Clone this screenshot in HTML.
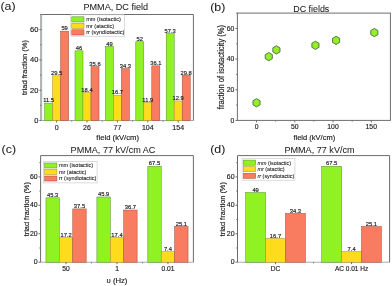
<!DOCTYPE html>
<html><head><meta charset="utf-8"><style>
html,body{margin:0;padding:0;background:#fff;width:392px;height:286px;overflow:hidden}
svg{display:block}
text{font-family:"Liberation Sans", sans-serif;fill:#1a1a1a;stroke:#1a1a1a;stroke-width:0.15px}
</style></head><body>
<svg width="392" height="286" viewBox="0 0 392 286"><g opacity="0.999">
<line x1="41.40" y1="120.50" x2="193.40" y2="120.50" stroke="#a8aab0" stroke-width="1"/>
<line x1="41.10" y1="120.50" x2="41.10" y2="14.50" stroke="#b2b6b6" stroke-width="2.2"/>
<path d="M41.40 14.50 H193.40 V120.50" fill="none" stroke="#6e6e6e" stroke-width="1.0"/>
<rect x="44.59" y="103.09" width="8.01" height="17.61" fill="#90f222" stroke="#5a8a2a" stroke-width="0.5"/>
<rect x="52.60" y="75.83" width="8.01" height="44.87" fill="#ffdb1e" stroke="#a88a2a" stroke-width="0.5"/>
<rect x="60.60" y="31.16" width="8.01" height="89.54" fill="#f97c60" stroke="#9a4a3a" stroke-width="0.5"/>
<line x1="56.60" y1="120.50" x2="56.60" y2="122.50" stroke="#6a6a6a" stroke-width="1"/>
<text x="56.60" y="130.20" font-size="7.0" text-anchor="middle">0</text>
<line x1="71.80" y1="120.50" x2="71.80" y2="121.70" stroke="#6a6a6a" stroke-width="1"/>
<rect x="74.99" y="50.84" width="8.01" height="69.86" fill="#90f222" stroke="#5a8a2a" stroke-width="0.5"/>
<rect x="83.00" y="92.64" width="8.01" height="28.06" fill="#ffdb1e" stroke="#a88a2a" stroke-width="0.5"/>
<rect x="91.00" y="66.59" width="8.01" height="54.11" fill="#f97c60" stroke="#9a4a3a" stroke-width="0.5"/>
<line x1="87.00" y1="120.50" x2="87.00" y2="122.50" stroke="#6a6a6a" stroke-width="1"/>
<text x="87.00" y="130.20" font-size="7.0" text-anchor="middle">26</text>
<line x1="102.20" y1="120.50" x2="102.20" y2="121.70" stroke="#6a6a6a" stroke-width="1"/>
<rect x="105.39" y="46.30" width="8.01" height="74.40" fill="#90f222" stroke="#5a8a2a" stroke-width="0.5"/>
<rect x="113.40" y="95.21" width="8.01" height="25.49" fill="#ffdb1e" stroke="#a88a2a" stroke-width="0.5"/>
<rect x="121.40" y="68.56" width="8.01" height="52.14" fill="#f97c60" stroke="#9a4a3a" stroke-width="0.5"/>
<line x1="117.40" y1="120.50" x2="117.40" y2="122.50" stroke="#6a6a6a" stroke-width="1"/>
<text x="117.40" y="130.20" font-size="7.0" text-anchor="middle">77</text>
<line x1="132.60" y1="120.50" x2="132.60" y2="121.70" stroke="#6a6a6a" stroke-width="1"/>
<rect x="135.79" y="41.76" width="8.01" height="78.94" fill="#90f222" stroke="#5a8a2a" stroke-width="0.5"/>
<rect x="143.80" y="102.48" width="8.01" height="18.22" fill="#ffdb1e" stroke="#a88a2a" stroke-width="0.5"/>
<rect x="151.80" y="65.83" width="8.01" height="54.87" fill="#f97c60" stroke="#9a4a3a" stroke-width="0.5"/>
<line x1="147.80" y1="120.50" x2="147.80" y2="122.50" stroke="#6a6a6a" stroke-width="1"/>
<text x="147.80" y="130.20" font-size="7.0" text-anchor="middle">104</text>
<line x1="163.00" y1="120.50" x2="163.00" y2="121.70" stroke="#6a6a6a" stroke-width="1"/>
<rect x="166.19" y="33.73" width="8.01" height="86.97" fill="#90f222" stroke="#5a8a2a" stroke-width="0.5"/>
<rect x="174.20" y="100.97" width="8.01" height="19.73" fill="#ffdb1e" stroke="#a88a2a" stroke-width="0.5"/>
<rect x="182.20" y="75.37" width="8.01" height="45.33" fill="#f97c60" stroke="#9a4a3a" stroke-width="0.5"/>
<line x1="178.20" y1="120.50" x2="178.20" y2="122.50" stroke="#6a6a6a" stroke-width="1"/>
<text x="178.20" y="130.20" font-size="7.0" text-anchor="middle">154</text>
<text x="48.59" y="102.29" font-size="5.8" text-anchor="middle">11.5</text>
<text x="56.60" y="75.03" font-size="5.8" text-anchor="middle">29.5</text>
<text x="64.61" y="30.36" font-size="5.8" text-anchor="middle">59</text>
<text x="78.99" y="50.04" font-size="5.8" text-anchor="middle">46</text>
<text x="87.00" y="91.84" font-size="5.8" text-anchor="middle">18.4</text>
<text x="95.01" y="65.79" font-size="5.8" text-anchor="middle">35.6</text>
<text x="109.39" y="45.50" font-size="5.8" text-anchor="middle">49</text>
<text x="117.40" y="94.41" font-size="5.8" text-anchor="middle">16.7</text>
<text x="125.41" y="67.76" font-size="5.8" text-anchor="middle">34.3</text>
<text x="139.79" y="40.96" font-size="5.8" text-anchor="middle">52</text>
<text x="147.80" y="101.68" font-size="5.8" text-anchor="middle">11.9</text>
<text x="155.81" y="65.03" font-size="5.8" text-anchor="middle">36.1</text>
<text x="170.19" y="32.93" font-size="5.8" text-anchor="middle">57.3</text>
<text x="178.20" y="100.17" font-size="5.8" text-anchor="middle">12.9</text>
<text x="186.21" y="74.57" font-size="5.8" text-anchor="middle">29.8</text>
<line x1="39.40" y1="120.50" x2="41.40" y2="120.50" stroke="#6a6a6a" stroke-width="1"/>
<text x="38.40" y="122.90" font-size="7.5" text-anchor="end">0</text>
<line x1="40.20" y1="105.36" x2="41.40" y2="105.36" stroke="#6a6a6a" stroke-width="1"/>
<line x1="39.40" y1="90.21" x2="41.40" y2="90.21" stroke="#6a6a6a" stroke-width="1"/>
<text x="38.40" y="92.61" font-size="7.5" text-anchor="end">20</text>
<line x1="40.20" y1="75.07" x2="41.40" y2="75.07" stroke="#6a6a6a" stroke-width="1"/>
<line x1="39.40" y1="59.93" x2="41.40" y2="59.93" stroke="#6a6a6a" stroke-width="1"/>
<text x="38.40" y="62.33" font-size="7.5" text-anchor="end">40</text>
<line x1="40.20" y1="44.79" x2="41.40" y2="44.79" stroke="#6a6a6a" stroke-width="1"/>
<line x1="39.40" y1="29.64" x2="41.40" y2="29.64" stroke="#6a6a6a" stroke-width="1"/>
<text x="38.40" y="32.04" font-size="7.5" text-anchor="end">60</text>
<line x1="40.20" y1="14.50" x2="41.40" y2="14.50" stroke="#6a6a6a" stroke-width="1"/>
<rect x="70.8" y="14.8" width="53.6" height="21.4" fill="#fff" stroke="#c4c4c4" stroke-width="0.6"/>
<rect x="71.80" y="16.80" width="12.20" height="5.20" fill="#90f222" stroke="#5a8a2a" stroke-width="0.5"/>
<text transform="translate(86.20 21.42) scale(1 1.1)" font-size="5.6" text-anchor="start" style="stroke-width:0.08px">mm (isotactic)</text>
<rect x="71.80" y="23.30" width="12.20" height="5.20" fill="#ffdb1e" stroke="#a88a2a" stroke-width="0.5"/>
<text transform="translate(86.20 27.92) scale(1 1.1)" font-size="5.6" text-anchor="start" style="stroke-width:0.08px">mr (atactic)</text>
<rect x="71.80" y="29.80" width="12.20" height="5.20" fill="#f97c60" stroke="#9a4a3a" stroke-width="0.5"/>
<text transform="translate(86.20 34.42) scale(1 1.1)" font-size="5.6" text-anchor="start" style="stroke-width:0.08px">rr (syndiotactic)</text>
<text transform="translate(115.75 10.00) scale(1 1.06)" font-size="9.1" text-anchor="middle" style="stroke-width:0.05px">PMMA, DC field</text>
<text transform="translate(0.40 9.90) scale(1 0.9)" font-size="12.4" text-anchor="start" style="stroke-width:0.05px">(a)</text>
<text transform="translate(27.20 67.50) rotate(-90) scale(1 1.0001)" font-size="7.5" text-anchor="middle">triad fraction (%)</text>
<text x="117.70" y="140.20" font-size="7.7" text-anchor="middle">field (kV/cm)</text>
<line x1="40.60" y1="262.20" x2="193.40" y2="262.20" stroke="#a8aab0" stroke-width="1"/>
<path d="M40.60 262.20 V155.60 H193.40 V262.20" fill="none" stroke="#6a6a6a" stroke-width="1"/>
<rect x="45.95" y="197.81" width="13.41" height="64.39" fill="#90f222" stroke="#5a8a2a" stroke-width="0.5"/>
<rect x="59.36" y="237.75" width="13.41" height="24.45" fill="#ffdb1e" stroke="#a88a2a" stroke-width="0.5"/>
<rect x="72.77" y="208.90" width="13.41" height="53.30" fill="#f97c60" stroke="#9a4a3a" stroke-width="0.5"/>
<line x1="66.07" y1="262.20" x2="66.07" y2="264.20" stroke="#6a6a6a" stroke-width="1"/>
<text x="66.07" y="270.90" font-size="6.7" text-anchor="middle">50</text>
<line x1="91.53" y1="262.20" x2="91.53" y2="263.40" stroke="#6a6a6a" stroke-width="1"/>
<rect x="96.88" y="196.96" width="13.41" height="65.24" fill="#90f222" stroke="#5a8a2a" stroke-width="0.5"/>
<rect x="110.29" y="237.47" width="13.41" height="24.73" fill="#ffdb1e" stroke="#a88a2a" stroke-width="0.5"/>
<rect x="123.71" y="210.04" width="13.41" height="52.16" fill="#f97c60" stroke="#9a4a3a" stroke-width="0.5"/>
<line x1="117.00" y1="262.20" x2="117.00" y2="264.20" stroke="#6a6a6a" stroke-width="1"/>
<text x="117.00" y="270.90" font-size="6.7" text-anchor="middle">1</text>
<line x1="142.47" y1="262.20" x2="142.47" y2="263.40" stroke="#6a6a6a" stroke-width="1"/>
<rect x="147.81" y="166.26" width="13.41" height="95.94" fill="#90f222" stroke="#5a8a2a" stroke-width="0.5"/>
<rect x="161.23" y="251.68" width="13.41" height="10.52" fill="#ffdb1e" stroke="#a88a2a" stroke-width="0.5"/>
<rect x="174.64" y="226.52" width="13.41" height="35.68" fill="#f97c60" stroke="#9a4a3a" stroke-width="0.5"/>
<line x1="167.93" y1="262.20" x2="167.93" y2="264.20" stroke="#6a6a6a" stroke-width="1"/>
<text x="167.93" y="270.90" font-size="6.7" text-anchor="middle">0.01</text>
<text x="52.65" y="197.01" font-size="5.8" text-anchor="middle">45.3</text>
<text x="66.07" y="236.95" font-size="5.8" text-anchor="middle">17.2</text>
<text x="79.48" y="208.10" font-size="5.8" text-anchor="middle">37.5</text>
<text x="103.59" y="196.16" font-size="5.8" text-anchor="middle">45.9</text>
<text x="117.00" y="236.67" font-size="5.8" text-anchor="middle">17.4</text>
<text x="130.41" y="209.24" font-size="5.8" text-anchor="middle">36.7</text>
<text x="154.52" y="165.46" font-size="5.8" text-anchor="middle">67.5</text>
<text x="167.93" y="250.88" font-size="5.8" text-anchor="middle">7.4</text>
<text x="181.35" y="225.72" font-size="5.8" text-anchor="middle">25.1</text>
<line x1="38.60" y1="262.20" x2="40.60" y2="262.20" stroke="#6a6a6a" stroke-width="1"/>
<text x="37.60" y="264.08" font-size="6.9" text-anchor="end">0</text>
<line x1="39.40" y1="247.99" x2="40.60" y2="247.99" stroke="#6a6a6a" stroke-width="1"/>
<line x1="38.60" y1="233.77" x2="40.60" y2="233.77" stroke="#6a6a6a" stroke-width="1"/>
<text x="37.60" y="235.66" font-size="6.9" text-anchor="end">20</text>
<line x1="39.40" y1="219.56" x2="40.60" y2="219.56" stroke="#6a6a6a" stroke-width="1"/>
<line x1="38.60" y1="205.35" x2="40.60" y2="205.35" stroke="#6a6a6a" stroke-width="1"/>
<text x="37.60" y="207.23" font-size="6.9" text-anchor="end">40</text>
<line x1="39.40" y1="191.13" x2="40.60" y2="191.13" stroke="#6a6a6a" stroke-width="1"/>
<line x1="38.60" y1="176.92" x2="40.60" y2="176.92" stroke="#6a6a6a" stroke-width="1"/>
<text x="37.60" y="178.80" font-size="6.9" text-anchor="end">60</text>
<line x1="39.40" y1="162.71" x2="40.60" y2="162.71" stroke="#6a6a6a" stroke-width="1"/>
<rect x="43.3" y="161.3" width="53.8" height="21.6" fill="#fff" stroke="#c4c4c4" stroke-width="0.6"/>
<rect x="44.70" y="163.00" width="12.20" height="5.00" fill="#90f222" stroke="#5a8a2a" stroke-width="0.5"/>
<text transform="translate(58.90 167.48) scale(1 1.1)" font-size="5.5" text-anchor="start" style="stroke-width:0.08px">mm (isotactic)</text>
<rect x="44.70" y="169.50" width="12.20" height="5.00" fill="#ffdb1e" stroke="#a88a2a" stroke-width="0.5"/>
<text transform="translate(58.90 173.98) scale(1 1.1)" font-size="5.5" text-anchor="start" style="stroke-width:0.08px">mr (atactic)</text>
<rect x="44.70" y="176.00" width="12.20" height="5.00" fill="#f97c60" stroke="#9a4a3a" stroke-width="0.5"/>
<text transform="translate(58.90 180.48) scale(1 1.1)" font-size="5.5" text-anchor="start" style="stroke-width:0.08px">rr (syndiotactic)</text>
<text transform="translate(113.00 152.50) scale(1 1.06)" font-size="9.1" text-anchor="middle" style="stroke-width:0.05px">PMMA, 77 kV/cm AC</text>
<text transform="translate(1.60 152.90) scale(1 0.9)" font-size="12.4" text-anchor="start" style="stroke-width:0.05px">(c)</text>
<text transform="translate(28.60 209.20) rotate(-90) scale(1 1.05)" font-size="7.4" text-anchor="middle">triad fraction (%)</text>
<text x="117.00" y="283.00" font-size="7.7" text-anchor="middle">υ (Hz)</text>
<line x1="237.50" y1="262.20" x2="389.60" y2="262.20" stroke="#a8aab0" stroke-width="1"/>
<path d="M237.50 262.20 V155.60 H389.60 V262.20" fill="none" stroke="#6a6a6a" stroke-width="1"/>
<rect x="245.68" y="192.55" width="19.90" height="69.65" fill="#90f222" stroke="#5a8a2a" stroke-width="0.5"/>
<rect x="265.58" y="238.46" width="19.90" height="23.74" fill="#ffdb1e" stroke="#a88a2a" stroke-width="0.5"/>
<rect x="285.47" y="213.45" width="19.90" height="48.75" fill="#f97c60" stroke="#9a4a3a" stroke-width="0.5"/>
<line x1="275.52" y1="262.20" x2="275.52" y2="264.20" stroke="#6a6a6a" stroke-width="1"/>
<text x="275.52" y="270.90" font-size="6.5" text-anchor="middle">DC</text>
<line x1="313.55" y1="262.20" x2="313.55" y2="263.40" stroke="#6a6a6a" stroke-width="1"/>
<rect x="321.73" y="166.26" width="19.90" height="95.94" fill="#90f222" stroke="#5a8a2a" stroke-width="0.5"/>
<rect x="341.63" y="251.68" width="19.90" height="10.52" fill="#ffdb1e" stroke="#a88a2a" stroke-width="0.5"/>
<rect x="361.52" y="226.52" width="19.90" height="35.68" fill="#f97c60" stroke="#9a4a3a" stroke-width="0.5"/>
<line x1="351.58" y1="262.20" x2="351.58" y2="264.20" stroke="#6a6a6a" stroke-width="1"/>
<text x="351.58" y="270.90" font-size="6.5" text-anchor="middle">AC 0.01 Hz</text>
<text x="255.63" y="191.75" font-size="5.8" text-anchor="middle">49</text>
<text x="275.52" y="237.66" font-size="5.8" text-anchor="middle">16.7</text>
<text x="295.42" y="212.65" font-size="5.8" text-anchor="middle">34.3</text>
<text x="331.68" y="165.46" font-size="5.8" text-anchor="middle">67.5</text>
<text x="351.58" y="250.88" font-size="5.8" text-anchor="middle">7.4</text>
<text x="371.47" y="225.72" font-size="5.8" text-anchor="middle">25.1</text>
<line x1="235.50" y1="262.20" x2="237.50" y2="262.20" stroke="#6a6a6a" stroke-width="1"/>
<text x="234.50" y="264.08" font-size="6.9" text-anchor="end">0</text>
<line x1="236.30" y1="247.99" x2="237.50" y2="247.99" stroke="#6a6a6a" stroke-width="1"/>
<line x1="235.50" y1="233.77" x2="237.50" y2="233.77" stroke="#6a6a6a" stroke-width="1"/>
<text x="234.50" y="235.66" font-size="6.9" text-anchor="end">20</text>
<line x1="236.30" y1="219.56" x2="237.50" y2="219.56" stroke="#6a6a6a" stroke-width="1"/>
<line x1="235.50" y1="205.35" x2="237.50" y2="205.35" stroke="#6a6a6a" stroke-width="1"/>
<text x="234.50" y="207.23" font-size="6.9" text-anchor="end">40</text>
<line x1="236.30" y1="191.13" x2="237.50" y2="191.13" stroke="#6a6a6a" stroke-width="1"/>
<line x1="235.50" y1="176.92" x2="237.50" y2="176.92" stroke="#6a6a6a" stroke-width="1"/>
<text x="234.50" y="178.80" font-size="6.9" text-anchor="end">60</text>
<line x1="236.30" y1="162.71" x2="237.50" y2="162.71" stroke="#6a6a6a" stroke-width="1"/>
<rect x="242.1" y="158.5" width="52.8" height="21.7" fill="#fff" stroke="#c4c4c4" stroke-width="0.6"/>
<rect x="243.40" y="160.10" width="12.30" height="5.10" fill="#90f222" stroke="#5a8a2a" stroke-width="0.5"/>
<text transform="translate(257.50 164.59) scale(1 1.1)" font-size="5.4" text-anchor="start" style="stroke-width:0.08px"><tspan font-style="italic">mm</tspan> (isotactic)</text>
<rect x="243.40" y="166.70" width="12.30" height="5.10" fill="#ffdb1e" stroke="#a88a2a" stroke-width="0.5"/>
<text transform="translate(257.50 171.19) scale(1 1.1)" font-size="5.4" text-anchor="start" style="stroke-width:0.08px"><tspan font-style="italic">mr</tspan> (atactic)</text>
<rect x="243.40" y="173.30" width="12.30" height="5.10" fill="#f97c60" stroke="#9a4a3a" stroke-width="0.5"/>
<text transform="translate(257.50 177.79) scale(1 1.1)" font-size="5.4" text-anchor="start" style="stroke-width:0.08px"><tspan font-style="italic">rr</tspan> (syndiotactic)</text>
<text transform="translate(319.50 152.60) scale(1 1.06)" font-size="9.1" text-anchor="middle" style="stroke-width:0.05px">PMMA, 77 kV/cm</text>
<text transform="translate(210.20 152.60) scale(1 0.9)" font-size="12.4" text-anchor="start" style="stroke-width:0.05px">(d)</text>
<text transform="translate(224.50 209.20) rotate(-90) scale(1 1.05)" font-size="7.4" text-anchor="middle">triad fraction (%)</text>
<rect x="237.4" y="13.1" width="153.00" height="107.30" fill="none" stroke="#6e6e6e" stroke-width="1"/>
<line x1="235.40" y1="120.40" x2="237.40" y2="120.40" stroke="#6e6e6e" stroke-width="1"/>
<text x="234.40" y="122.65" font-size="6.8" text-anchor="end">0</text>
<line x1="236.20" y1="105.07" x2="237.40" y2="105.07" stroke="#6e6e6e" stroke-width="1"/>
<line x1="235.40" y1="89.74" x2="237.40" y2="89.74" stroke="#6e6e6e" stroke-width="1"/>
<text x="234.40" y="91.99" font-size="6.8" text-anchor="end">20</text>
<line x1="236.20" y1="74.41" x2="237.40" y2="74.41" stroke="#6e6e6e" stroke-width="1"/>
<line x1="235.40" y1="59.09" x2="237.40" y2="59.09" stroke="#6e6e6e" stroke-width="1"/>
<text x="234.40" y="61.33" font-size="6.8" text-anchor="end">40</text>
<line x1="236.20" y1="43.76" x2="237.40" y2="43.76" stroke="#6e6e6e" stroke-width="1"/>
<line x1="235.40" y1="28.43" x2="237.40" y2="28.43" stroke="#6e6e6e" stroke-width="1"/>
<text x="234.40" y="30.68" font-size="6.8" text-anchor="end">60</text>
<line x1="236.20" y1="13.10" x2="237.40" y2="13.10" stroke="#6e6e6e" stroke-width="1"/>
<line x1="256.52" y1="120.40" x2="256.52" y2="122.40" stroke="#6e6e6e" stroke-width="1"/>
<text x="256.52" y="129.00" font-size="6.8" text-anchor="middle">0</text>
<line x1="275.65" y1="120.40" x2="275.65" y2="121.60" stroke="#6e6e6e" stroke-width="1"/>
<line x1="294.77" y1="120.40" x2="294.77" y2="122.40" stroke="#6e6e6e" stroke-width="1"/>
<text x="294.77" y="129.00" font-size="6.8" text-anchor="middle">50</text>
<line x1="313.90" y1="120.40" x2="313.90" y2="121.60" stroke="#6e6e6e" stroke-width="1"/>
<line x1="333.02" y1="120.40" x2="333.02" y2="122.40" stroke="#6e6e6e" stroke-width="1"/>
<text x="333.02" y="129.00" font-size="6.8" text-anchor="middle">100</text>
<line x1="352.15" y1="120.40" x2="352.15" y2="121.60" stroke="#6e6e6e" stroke-width="1"/>
<line x1="371.27" y1="120.40" x2="371.27" y2="122.40" stroke="#6e6e6e" stroke-width="1"/>
<text x="371.27" y="129.00" font-size="6.8" text-anchor="middle">150</text>
<polygon points="256.52,98.67 260.08,100.72 260.08,104.82 256.52,106.87 252.97,104.82 252.97,100.72" fill="#90f222" stroke="#4e5a48" stroke-width="0.85"/>
<polygon points="268.76,52.53 272.32,54.58 272.32,58.68 268.76,60.73 265.21,58.68 265.21,54.58" fill="#90f222" stroke="#4e5a48" stroke-width="0.85"/>
<polygon points="276.42,45.79 279.97,47.84 279.97,51.94 276.42,53.99 272.86,51.94 272.86,47.84" fill="#90f222" stroke="#4e5a48" stroke-width="0.85"/>
<polygon points="315.43,41.19 318.98,43.24 318.98,47.34 315.43,49.39 311.88,47.34 311.88,43.24" fill="#90f222" stroke="#4e5a48" stroke-width="0.85"/>
<polygon points="336.08,36.28 339.64,38.33 339.64,42.43 336.08,44.48 332.53,42.43 332.53,38.33" fill="#90f222" stroke="#4e5a48" stroke-width="0.85"/>
<polygon points="374.33,28.47 377.89,30.52 377.89,34.62 374.33,36.67 370.78,34.62 370.78,30.52" fill="#90f222" stroke="#4e5a48" stroke-width="0.85"/>
<text transform="translate(311.30 11.50) scale(1 1.06)" font-size="8.9" text-anchor="middle" style="stroke-width:0.05px">DC fields</text>
<text transform="translate(210.20 10.50) scale(1 0.9)" font-size="12.4" text-anchor="start" style="stroke-width:0.05px">(b)</text>
<text transform="translate(223.90 67.00) rotate(-90) scale(1 1.08)" font-size="7.6" text-anchor="middle">fraction of isotacticity (%)</text>
<text x="314.30" y="139.50" font-size="7.5" text-anchor="middle">field (kV/cm)</text>
</g></svg>
</body></html>
